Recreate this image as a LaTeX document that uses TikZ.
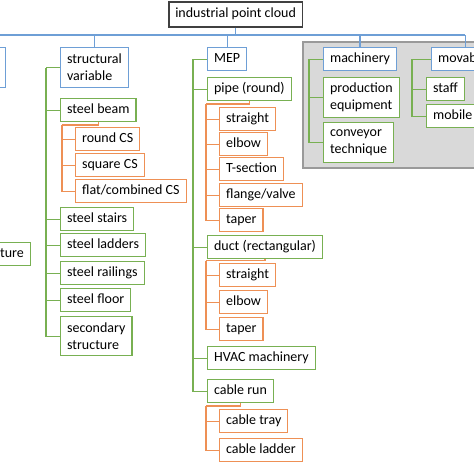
\documentclass[tikz,border=0pt]{standalone}
\usepackage{fontspec}
\setmainfont{Carlito}
\definecolor{cblue}{HTML}{6E9FD6}
\definecolor{cgreen}{HTML}{78B052}
\definecolor{corange}{HTML}{EE9055}
\definecolor{cgrayfill}{HTML}{D9D9D9}
\definecolor{cgrayline}{HTML}{9A9A9A}
\definecolor{cdark}{HTML}{404040}
\begin{document}
\begin{tikzpicture}[x=1pt,y=-1pt,
  base/.style={draw, fill=white, line width=1.2pt, inner xsep=6.5pt, inner ysep=0pt,
    anchor=north west, font=\fontsize{14}{17}\selectfont},
  one/.style={base, minimum height=23pt, text height=10pt, text depth=3pt},
  two/.style={base, minimum height=40pt, align=left},
  bl/.style={draw=cblue}, gr/.style={draw=cgreen}, og/.style={draw=corange},
  dk/.style={draw=cdark, line width=1.5pt},
  bll/.style={draw=cblue, line width=1.2pt},
  grl/.style={draw=cgreen, line width=1.2pt},
  ogl/.style={draw=corange, line width=1.2pt}]
\useasboundingbox (0,0) rectangle (474,474);
\clip (0,0) rectangle (474,474);
\fill[white] (0,0) rectangle (474,474);
% gray area
\filldraw[fill=cgrayfill, draw=cgrayline, line width=1.2pt] (303,42) rectangle (490,168);
% root
\node[one, dk, minimum height=25pt] (root) at (168,1) {industrial point cloud};
% blue level
\node[two, bl, minimum width=60pt, anchor=north east] (lb) at (6,47) {};
\node[two, bl] (sv) at (60,47) {structural\\variable};
\node[one, bl] (mep) at (207,47) {MEP};
\node[one, bl] (mach) at (323,47) {machinery};
\node[one, bl, text width=54pt, align=left] (mov) at (431,47) {movab};
% left partial
\node[one, gr, anchor=north east] (lt) at (31,242) {ture};
% structural variable children
\node[one, gr] (sb) at (60,98) {steel beam};
\node[one, og] (rcs) at (75,127) {round CS};
\node[one, og] (scs) at (75,153) {square CS};
\node[one, og] (fcs) at (75,179) {flat/combined CS};
\node[one, gr] (st) at (60,207) {steel stairs};
\node[one, gr] (sl) at (60,233) {steel ladders};
\node[one, gr] (sr) at (60,261) {steel railings};
\node[one, gr] (sf) at (60,288) {steel floor};
\node[two, gr, minimum height=39pt] (ss) at (60,316) {secondary\\structure};
% MEP children
\node[one, gr] (pipe) at (207,77) {pipe (round)};
\node[one, og] (ps) at (219,107) {straight};
\node[one, og] (pe) at (219,132) {elbow};
\node[one, og] (pt) at (219,157) {T-section};
\node[one, og] (pf) at (219,183) {flange/valve};
\node[one, og] (pta) at (219,208) {taper};
\node[one, gr] (duct) at (207,235) {duct (rectangular)};
\node[one, og] (ds) at (219,263) {straight};
\node[one, og] (de) at (219,290) {elbow};
\node[one, og] (dt) at (219,317) {taper};
\node[one, gr] (hvac) at (207,346) {HVAC machinery};
\node[one, gr] (cab) at (207,379) {cable run};
\node[one, og] (ct) at (219,409) {cable tray};
\node[one, og] (cl) at (219,438) {cable ladder};
% machinery children
\node[two, gr] (prod) at (323,77) {production\\equipment};
\node[two, gr] (conv) at (323,122) {conveyor\\technique};
% movable children
\node[one, gr] (staff) at (426,77) {staff};
\node[one, gr, text width=60pt, align=left] (mob) at (426,104) {mobile};
% blue connectors
\coordinate (busL) at (0,35);
\coordinate (busR) at (465,35);
\draw[bll] (busL) -- (busR);
\draw[bll] (root.south) -- (root.south |- busL);
\foreach \n in {sv,mep,mach,mov} \draw[bll] (\n.north) -- (\n.north |- busL);
% green spines
\coordinate (svs) at ([xshift=-14pt]sv.west);
\draw[grl] (sv.west) -- (svs);
\foreach \n in {sb,st,sl,sr,sf,ss} \draw[grl] (svs) |- (\n.west);
\coordinate (meps) at ([xshift=-14pt]mep.west);
\draw[grl] (mep.west) -- (meps);
\foreach \n in {pipe,duct,hvac,cab} \draw[grl] (meps) |- (\n.west);
\coordinate (machs) at ([xshift=-14pt]mach.west);
\draw[grl] (mach.west) -- (machs);
\foreach \n in {prod,conv} \draw[grl] (machs) |- (\n.west);
\coordinate (movs) at ([xshift=-19pt]mov.west);
\draw[grl] (mov.west) -- (movs);
\foreach \n in {staff,mob} \draw[grl] (movs) |- (\n.west);
% orange branches
\coordinate (sbo) at (62,125);
\draw[ogl] (sb.south) |- (sbo);
\foreach \n in {rcs,scs,fcs} \draw[ogl] (sbo) |- (\n.west);
\coordinate (pipeo) at (206,104);
\draw[ogl] (pipe.south) |- (pipeo);
\foreach \n in {ps,pe,pt,pf,pta} \draw[ogl] (pipeo) |- (\n.west);
\coordinate (ducto) at (206,260.5);
\draw[ogl] (duct.south) |- (ducto);
\foreach \n in {ds,de,dt} \draw[ogl] (ducto) |- (\n.west);
\coordinate (cabo) at (206,406);
\draw[ogl] (cab.south) |- (cabo);
\foreach \n in {ct,cl} \draw[ogl] (cabo) |- (\n.west);
\end{tikzpicture}
\end{document}
